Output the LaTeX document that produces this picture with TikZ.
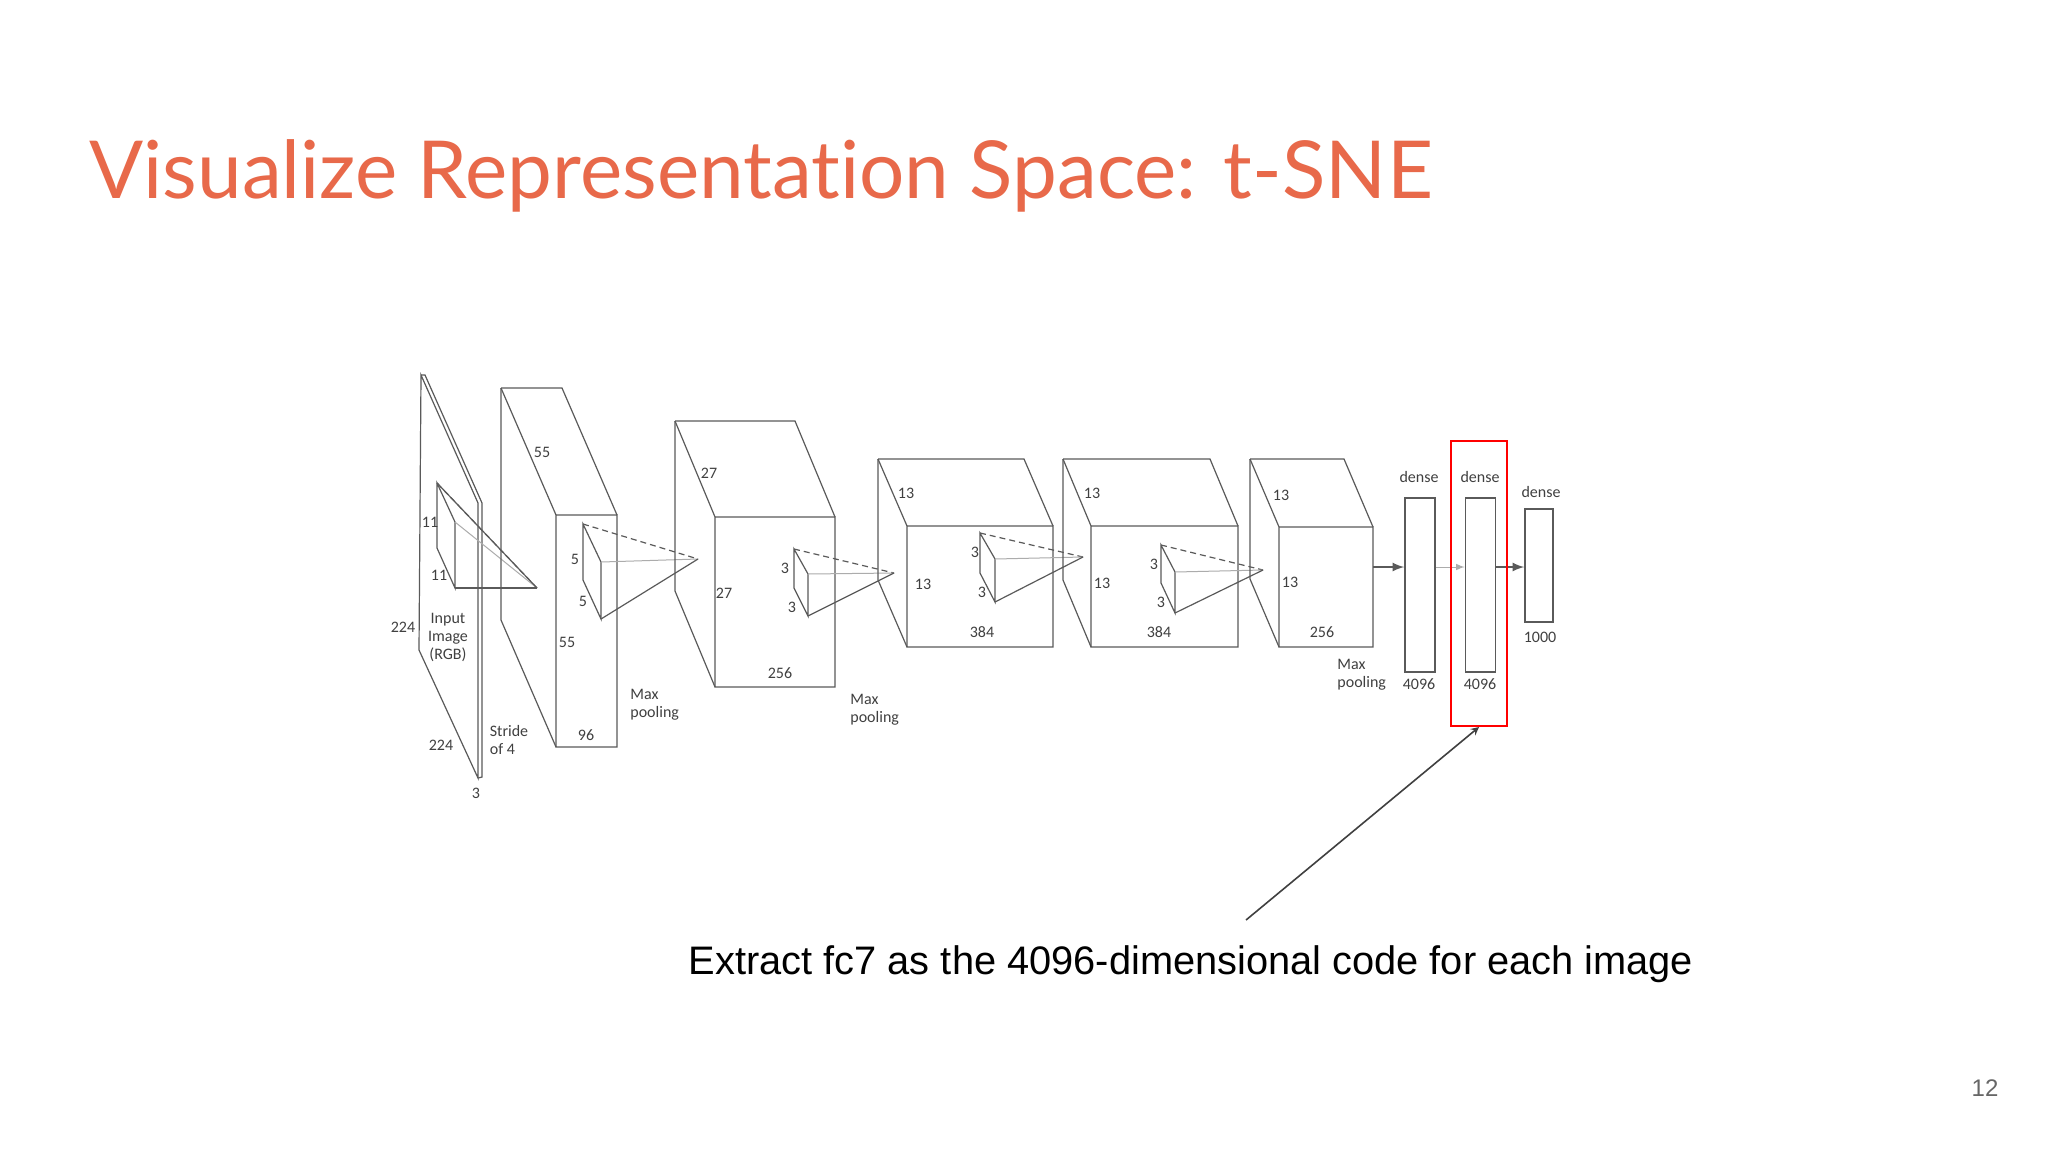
\documentclass[tikz,border=0pt]{standalone}
\usepackage{fontspec}
\setmainfont{Carlito}
\newfontfamily\titlefont[Ligatures={NoCommon}]{Lato}
\newfontfamily\arial{Liberation Sans}
\definecolor{titleor}{HTML}{E8694A}
\definecolor{netgray}{HTML}{5A5A5A}
\begin{document}
\begin{tikzpicture}[x=0.5pt,y=-0.5pt,
  net/.style={draw=netgray,line width=0.6pt},
  faint/.style={draw=netgray!50,line width=0.5pt},
  lab/.style={font=\fontsize{8}{9}\selectfont,text=black!75,inner sep=0pt,align=left},
  dense/.style={draw=netgray,line width=0.8pt,minimum width=15pt,inner sep=0pt}]
\useasboundingbox (0,0) rectangle (2048,1152);
\fill[white] (0,0) rectangle (2048,1152);
\node[anchor=base west,font=\titlefont\fontsize{40}{44}\selectfont,text=titleor,inner sep=0pt] (title) at (89,198) {Visualize Representation Space: t-SNE};
\newcommand\cuboid[6]{%
 \draw[net] (#1,#2) -- ++(#3,0) -- ++(#5,#6);
 \draw[net] (#1,#2) -- ++(#5,#6) rectangle ++(#3,#4);
 \draw[net] (#1,#2) -- ++(0,#4) -- ++(#5,#6);}
\newcommand\pyr[9]{% x1 ytop ybot x2 y3 y4 ax ay style
 \draw[net] (#1,#2) -- (#1,#3) -- (#4,#6) -- (#4,#5) -- cycle;
 \draw[net,densely dashed] (#1,#2) -- (#7,#8);
 \draw[faint] (#4,#5) -- (#7,#8);
 \draw[net,#9] (#4,#6) -- (#7,#8);}
% input plane
\draw[net] (421,375) -- (478,503) -- (478,778) -- (419,650) -- cycle;
\draw[net] (421,375) -- (425,375) -- (482,503) -- (482,777) -- (478,778);
\pyr{437}{483}{548}{455}{522}{588}{537}{588}{line width=1.1pt}
\draw[net] (437,483) -- (537,588);
% conv boxes
\cuboid{501}{388}{61}{232}{55}{127}
\pyr{583}{524}{580}{601}{562}{619}{698}{559}{}
\cuboid{675}{421}{120}{170}{40}{96}
\pyr{794}{549}{588}{808}{574}{616}{894}{573}{}
\cuboid{878}{459}{146}{121}{29}{67}
\pyr{980}{533}{573}{995}{559}{602}{1083}{557}{}
\cuboid{1063}{459}{147}{121}{28}{67}
\pyr{1161}{545}{583}{1175}{572}{613}{1263}{570}{}
\cuboid{1250}{459}{94}{120}{29}{68}
% labels
\node[lab] at (430,522) {11};
\node[lab] at (439,575) {11};
\node[lab] at (403,627) {224};
\node[lab,align=center] at (448,637) {Input\\Image\\(RGB)};
\node[lab] at (441,745) {224};
\node[lab] at (476,793) {3};
\node[lab] at (509,740) {Stride\\of 4};
\node[lab] at (542,452) {55};
\node[lab] at (567,642) {55};
\node[lab] at (586,735) {96};
\node[lab] at (575,559) {5};
\node[lab] at (583,601) {5};
\node[lab,anchor=west] at (630,705) {Max\\pooling};
\node[lab] at (709,473) {27};
\node[lab] at (724,593) {27};
\node[lab] at (780,673) {256};
\node[lab] at (785,568) {3};
\node[lab] at (792,607) {3};
\node[lab,anchor=west] at (850,710) {Max\\pooling};
\node[lab] at (906,493) {13};
\node[lab] at (923,584) {13};
\node[lab] at (982,632) {384};
\node[lab] at (975,552) {3};
\node[lab] at (982,592) {3};
\node[lab] at (1092,493) {13};
\node[lab] at (1102,583) {13};
\node[lab] at (1159,632) {384};
\node[lab] at (1154,564) {3};
\node[lab] at (1161,602) {3};
\node[lab] at (1281,495) {13};
\node[lab] at (1290,582) {13};
\node[lab] at (1322,632) {256};
\node[lab,anchor=west] at (1337,675) {Max\\pooling};
% dense
\coordinate (c5) at (1373,567);
\node[dense,minimum height=87pt] (d1) at (1420,585) {};
\node[dense,minimum height=87pt] (d2) at (1480.5,585) {};
\node[dense,minimum width=14pt,minimum height=56.5pt] (d3) at (1539,565.5) {};
\node[lab] at (1419,477) {dense};
\node[lab] at (1480,477) {dense};
\node[lab] at (1541,492) {dense};
\node[lab] at (1419,684) {4096};
\node[lab] at (1480,684) {4096};
\node[lab] at (1540,637) {1000};
\draw[net,line width=1pt,-latex] (c5) -- (c5 -| d1.west);
\draw[faint,-latex] (c5 -| d1.east) -- (c5 -| d2.west);
\draw[net,line width=1pt,-latex] (c5 -| d2.east) -- (c5 -| d3.west);
\node[draw=red,line width=1pt,minimum width=28pt,minimum height=142.5pt,inner sep=0pt] (red) at (1479,583.5) {};
% annotation
\coordinate (arr) at (1246,920);
\draw[black!75,line width=0.8pt,-stealth] (arr) -- (red.south);
\node[font=\arial\fontsize{19.9}{22}\selectfont,inner sep=0pt] (cap) at (1191,964) {Extract fc7 as the 4096-dimensional code for each image};
\node[font=\arial\fontsize{12}{14}\selectfont,text=black!60,inner sep=0pt] (pg) at (1985,1088) {12};
\end{tikzpicture}
\end{document}
